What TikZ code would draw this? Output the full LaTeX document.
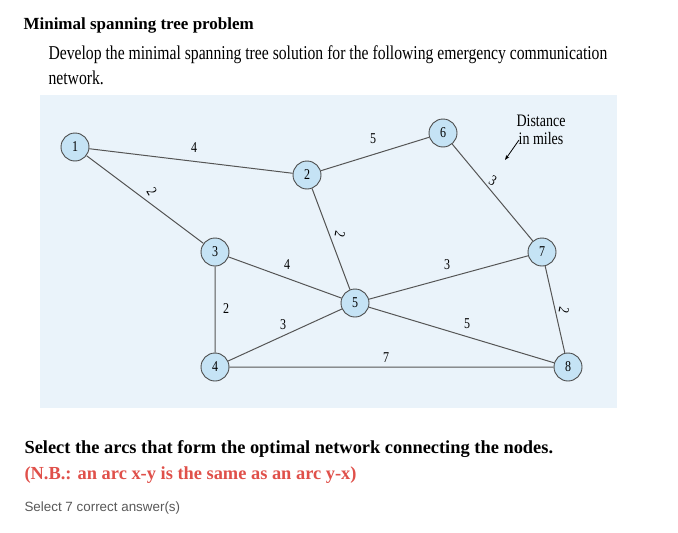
\documentclass[tikz,border=0pt]{standalone}
\usepackage{fontspec}
\setmainfont{Liberation Serif}
\newfontfamily\cond[FakeStretch=0.8]{Liberation Serif}
\newfontfamily\lsans{Liberation Sans}
\usetikzlibrary{arrows.meta}
\definecolor{panel}{HTML}{EAF3FA}
\definecolor{nodefill}{HTML}{C5E3F5}
\definecolor{edge}{HTML}{555555}
\definecolor{redtxt}{HTML}{E0504A}
\tikzset{
  nd/.style={circle,draw=gray!60!black,fill=nodefill,line width=0.9pt,minimum size=28pt,inner sep=0pt,font=\cond\fontsize{15}{15}\selectfont},
  arc/.style={draw=edge,line width=1pt},
  lbl/.style={font=\cond\fontsize{15}{15}\selectfont,inner sep=0pt}
}
\begin{document}
\begin{tikzpicture}[x=1pt,y=-1pt]
\useasboundingbox (0,0) rectangle (678,533);
\fill[white] (0,0) rectangle (678,533);
\node[anchor=west,font=\bfseries\fontsize{17}{17}\selectfont] (t1) at (20,25) {Minimal spanning tree problem};
\node[anchor=west,font=\cond\fontsize{19.6}{19.6}\selectfont] (t2) at (45,55) {Develop the minimal spanning tree solution for the following emergency communication};
\node[anchor=west,font=\cond\fontsize{19.6}{19.6}\selectfont] (t3) at (45,78) {network.};
\fill[panel] (40,95) rectangle (617,408);
\node[nd] (n1) at (75,147) {1};
\node[nd] (n2) at (307,175) {2};
\node[nd] (n6) at (443,133) {6};
\node[nd] (n3) at (215,252) {3};
\node[nd] (n5) at (355,303) {5};
\node[nd] (n7) at (542,252) {7};
\node[nd] (n4) at (215,367) {4};
\node[nd] (n8) at (568,367) {8};
\path[arc] (n1)--(n2) (n1)--(n3) (n2)--(n6) (n2)--(n5) (n6)--(n7) (n3)--(n5) (n3)--(n4) (n4)--(n5) (n5)--(n7) (n5)--(n8) (n4)--(n8) (n7)--(n8);
\node[lbl] (l12) at (194,148) {4};
\node[lbl,rotate=-60] (l13) at (152,192) {2};
\node[lbl] (l26) at (373,139) {5};
\node[lbl,rotate=-100] (l25) at (340,234) {2};
\node[lbl,rotate=-30] (l67) at (493,181) {3};
\node[lbl] (l35) at (287,265) {4};
\node[lbl] (l34) at (226,309) {2};
\node[lbl] (l45) at (283,325) {3};
\node[lbl] (l57) at (447,265) {3};
\node[lbl] (l58) at (467,324) {5};
\node[lbl] (l48) at (386,358) {7};
\node[lbl,rotate=-100] (l78) at (564,310) {2};
\node[lbl,align=center,font=\cond\fontsize{17.5}{18}\selectfont] (dm) at (541,130) {Distance\\ in miles};
\coordinate (dmt) at (505,160);
\draw[line width=0.8pt,-{Stealth[length=5pt]}] (519,140) -- (dmt);
\node[anchor=west,font=\bfseries\fontsize{18.4}{18.4}\selectfont] (q1) at (21,449) {Select the arcs that form the optimal network connecting the nodes.};
\node[anchor=west,font=\bfseries\fontsize{18.4}{18.4}\selectfont,text=redtxt] (q2) at (21,475) {(N.B.: an arc x-y is the same as an arc y-x)};
\node[anchor=west,font=\lsans\fontsize{13.4}{13.4}\selectfont,text=gray!70!black] (q3) at (21,508) {Select 7 correct answer(s)};
\end{tikzpicture}
\end{document}
